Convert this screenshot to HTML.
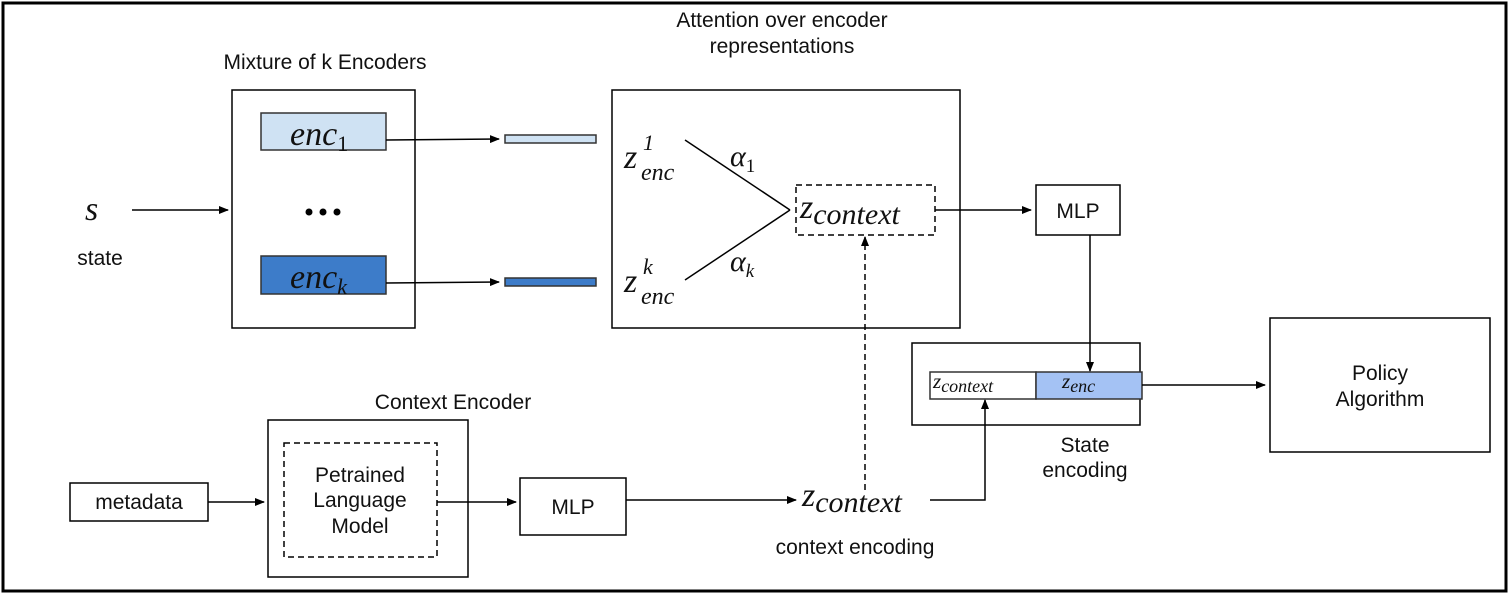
<!DOCTYPE html>
<html><head><style>
html,body{margin:0;padding:0;background:#fff;}
svg{display:block;}
.s{font-family:"Liberation Sans",sans-serif;font-size:21px;fill:#111;}
.m{font-family:"Liberation Serif",serif;font-style:italic;fill:#111;}
</style></head><body>
<svg width="1510" height="595" viewBox="0 0 1510 595" xmlns="http://www.w3.org/2000/svg">
<defs><marker id="a" markerWidth="10" markerHeight="8" refX="9" refY="4" orient="auto" markerUnits="userSpaceOnUse"><path d="M0,0 L10,4 L0,8 z" fill="#000"/></marker></defs>
<rect x="3" y="3" width="1503" height="588" fill="none" stroke="#000" stroke-width="3"/>
<g fill="none" stroke="#000" stroke-width="1.5">
<rect x="232" y="90" width="183" height="238"/>
<rect x="612" y="90" width="348" height="238"/>
<rect x="1036" y="185" width="84" height="50"/>
<rect x="912" y="343" width="228" height="82"/>
<rect x="1270" y="318" width="220" height="134"/>
<rect x="268" y="420" width="200" height="157"/>
<rect x="520" y="478" width="106" height="57"/>
<rect x="70" y="483" width="138" height="38"/>
<rect x="284" y="443" width="153" height="114" stroke-dasharray="6,4"/>
<rect x="796" y="185" width="139" height="50" stroke-dasharray="6,4"/>
</g>
<rect x="261" y="113" width="125" height="37" fill="#cfe2f3" stroke="#333" stroke-width="1.5"/>
<rect x="261" y="256" width="125" height="38" fill="#3d7cc9" stroke="#333" stroke-width="1.5"/>
<rect x="505" y="135" width="91" height="8" fill="#cfe2f3" stroke="#333" stroke-width="1.5"/>
<rect x="505" y="278" width="91" height="8" fill="#3d7cc9" stroke="#333" stroke-width="1.5"/>
<rect x="930" y="372" width="106" height="27" fill="#fff" stroke="#333" stroke-width="1.5"/>
<rect x="1036" y="372" width="106" height="27" fill="#a4c2f4" stroke="#333" stroke-width="1.5"/>
<g fill="#000"><circle cx="309" cy="212" r="3.5"/><circle cx="323" cy="212" r="3.5"/><circle cx="337" cy="212" r="3.5"/></g>
<g stroke="#000" stroke-width="1.5" fill="none">
<line x1="132" y1="210" x2="228" y2="210" marker-end="url(#a)"/>
<line x1="386" y1="140" x2="499" y2="139" marker-end="url(#a)"/>
<line x1="386" y1="283" x2="499" y2="282" marker-end="url(#a)"/>
<line x1="685" y1="140" x2="790" y2="210"/>
<line x1="685" y1="280" x2="790" y2="210"/>
<line x1="935" y1="210" x2="1031" y2="210" marker-end="url(#a)"/>
<line x1="1090" y1="235" x2="1090" y2="371" marker-end="url(#a)"/>
<line x1="1142" y1="385" x2="1265" y2="385" marker-end="url(#a)"/>
<line x1="208" y1="502" x2="264" y2="502" marker-end="url(#a)"/>
<line x1="437" y1="502" x2="516" y2="502" marker-end="url(#a)"/>
<line x1="626" y1="500" x2="796" y2="500" marker-end="url(#a)"/>
<line x1="865" y1="490" x2="865" y2="237" stroke-dasharray="6,4" marker-end="url(#a)"/>
<polyline points="930,500 985,500 985,400" marker-end="url(#a)"/>
</g>
<text class="s" x="325" y="69" text-anchor="middle">Mixture of k Encoders</text>
<text class="s" x="782" y="27" text-anchor="middle">Attention over encoder</text>
<text class="s" x="782" y="53" text-anchor="middle">representations</text>
<text class="s" x="100" y="265" text-anchor="middle">state</text>
<text class="s" x="1078" y="218" text-anchor="middle">MLP</text>
<text class="s" x="1380" y="380" text-anchor="middle">Policy</text>
<text class="s" x="1380" y="406" text-anchor="middle">Algorithm</text>
<text class="s" x="1085" y="452" text-anchor="middle">State</text>
<text class="s" x="1085" y="477" text-anchor="middle">encoding</text>
<text class="s" x="453" y="409" text-anchor="middle">Context Encoder</text>
<text class="s" x="360" y="482" text-anchor="middle">Petrained</text>
<text class="s" x="360" y="507" text-anchor="middle">Language</text>
<text class="s" x="360" y="533" text-anchor="middle">Model</text>
<text class="s" x="573" y="514" text-anchor="middle">MLP</text>
<text class="s" x="139" y="509" text-anchor="middle">metadata</text>
<text class="s" x="855" y="554" text-anchor="middle">context encoding</text>
<text class="m" x="85" y="220" font-size="34">s</text>
<text class="m" x="290" y="145" font-size="34">enc<tspan font-style="normal" font-size="22" dy="6">1</tspan></text>
<text class="m" x="290" y="288" font-size="34">enc<tspan font-size="22" dy="6">k</tspan></text>
<text class="m" x="624" y="168" font-size="34">z</text>
<text class="m" x="643" y="150" font-size="22" font-style="normal">1</text>
<text class="m" x="641" y="180" font-size="24">enc</text>
<text class="m" x="624" y="292" font-size="34">z</text>
<text class="m" x="643" y="274" font-size="22">k</text>
<text class="m" x="641" y="304" font-size="24">enc</text>
<text class="m" x="730" y="166" font-size="30">α<tspan font-style="normal" font-size="19" dy="6">1</tspan></text>
<text class="m" x="730" y="271" font-size="30">α<tspan font-size="19" dy="6">k</tspan></text>
<text class="m" x="800" y="218" font-size="34">z<tspan font-size="30" dy="6">context</tspan></text>
<text class="m" x="802" y="506" font-size="34">z<tspan font-size="30" dy="6">context</tspan></text>
<text class="m" x="933" y="388" font-size="21">z<tspan font-size="18" dy="4">context</tspan></text>
<text class="m" x="1062" y="388" font-size="21">z<tspan font-size="18" dy="4">enc</tspan></text>
</svg>
</body></html>
